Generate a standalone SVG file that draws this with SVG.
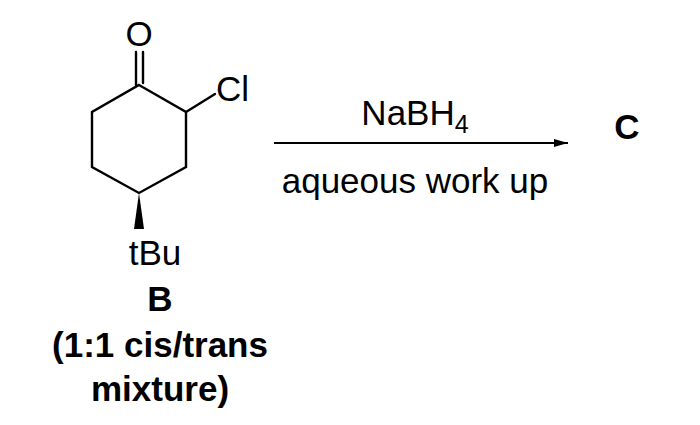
<svg xmlns="http://www.w3.org/2000/svg" width="700" height="425" viewBox="0 0 700 425">
<style>
.b{stroke:#000;stroke-width:2.4;fill:none;stroke-linecap:round}
.t{font-family:"Liberation Sans",Arial,sans-serif;font-size:35px;fill:#000}
.bd{font-weight:bold}
</style>
<defs><marker id="ah" markerWidth="14" markerHeight="8" refX="14" refY="4" orient="auto" markerUnits="userSpaceOnUse"><path d="M0,0 L14,4 L0,8 Z" fill="#000"/></marker></defs>
<rect width="700" height="425" fill="#fff"/>
<g id="B">
<path class="b" d="M139,85 L186,112 L186,167 L139,193 L92,167 L92,112 Z"/>
<line class="b" x1="136" y1="85" x2="136" y2="52"/>
<line class="b" x1="143" y1="83" x2="143" y2="52"/>
<line class="b" x1="186" y1="112" x2="215" y2="94"/>
<path d="M139,193 L134,229 L144,229 Z" fill="#000"/>
<text class="t" x="139" y="46" text-anchor="middle">O</text>
<text class="t" x="216" y="101">Cl</text>
<text class="t" x="155" y="265" text-anchor="middle">tBu</text>
<text class="t bd" x="160" y="311" text-anchor="middle">B</text>
<text class="t bd" x="160" y="357" text-anchor="middle">(1:1 cis/trans</text>
<text class="t bd" x="160" y="401" text-anchor="middle">mixture)</text>
</g>
<g id="C"><text class="t bd" x="627" y="139" text-anchor="middle" font-size="30">C</text></g>
<g id="connectors">
<line x1="274" y1="143" x2="568" y2="143" stroke="#000" stroke-width="2" marker-end="url(#ah)"/>
<text class="t" x="415" y="125" text-anchor="middle">NaBH<tspan font-size="25" dy="8">4</tspan></text>
<text class="t" x="415" y="193" text-anchor="middle">aqueous work up</text>
</g>
</svg>
